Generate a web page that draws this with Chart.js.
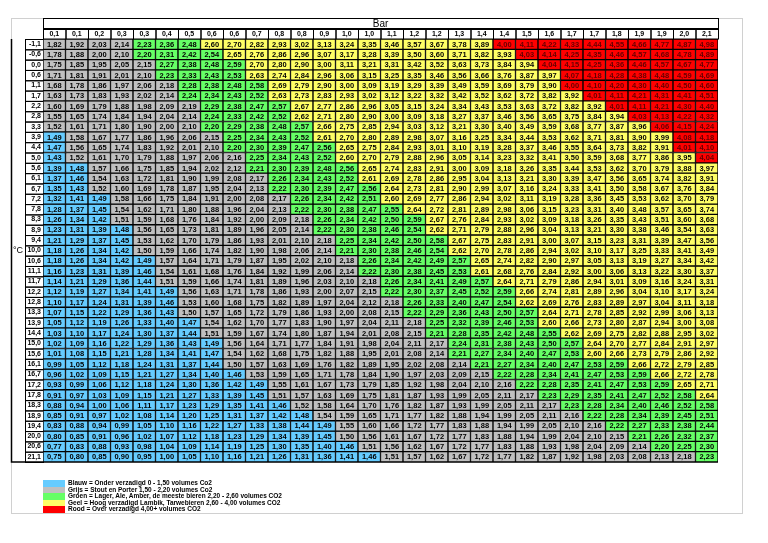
<!DOCTYPE html>
<html>
<head>
<meta charset="utf-8">
<script src="https://cdn.jsdelivr.net/npm/chart.js@4/dist/chart.umd.min.js"></script>
<style>
  body { margin: 0; background: #fff; }
  #wrap { position: relative; width: 768px; height: 543px; }
  #legend { position: absolute; left: 43px; top: 480px; font: bold 6.5px "Liberation Sans", Arial, sans-serif; }
  #legend div { height: 6.5px; line-height: 6.5px; white-space: nowrap; }
  #legend span { display: inline-block; width: 22px; height: 6.5px; vertical-align: top; margin-right: 3px; }
</style>
</head>
<body>
<div id="wrap">
  <canvas id="chart" width="768" height="543"></canvas>
  <div id="legend"></div>
</div>
<script>
// Koolzuur tabel: volumes CO2 per druk (bar) en temperatuur (°C)
const barLabels = ['0,1','0,1','0,2','0,3','0,3','0,4','0,5','0,6','0,6','0,7','0,8','0,8','0,9','1,0','1,0',
  '1,1','1,2','1,2','1,3','1,4','1,4','1,5','1,6','1,7','1,7','1,8','1,9','1,9','2,0','2,1'];
const tempLabels = ['-1,1','-0,6','0,0','0,6','1,1','1,7','2,2','2,8','3,3','3,9','4,4','5,0','5,6','6,1','6,7',
  '7,2','7,8','8,3','8,9','9,4','10,0','10,6','11,1','11,7','12,2','12,8','13,3','13,9','14,4','15,0','15,6',
  '16,1','16,7','17,2','17,8','18,3','18,9','19,4','20,0','20,6','21,1'];
const co2Values = [
  [1.82,1.92,2.03,2.14,2.23,2.36,2.48,2.60,2.70,2.82,2.93,3.02,3.13,3.24,3.35,3.46,3.57,3.67,3.78,3.89,4.00,4.11,4.22,4.33,4.44,4.55,4.66,4.77,4.87,4.98],
  [1.78,1.88,2.00,2.10,2.20,2.31,2.42,2.54,2.65,2.76,2.86,2.96,3.07,3.17,3.28,3.39,3.50,3.60,3.71,3.82,3.93,4.03,4.14,4.25,4.35,4.46,4.57,4.68,4.78,4.89],
  [1.75,1.85,1.95,2.05,2.15,2.27,2.38,2.48,2.59,2.70,2.80,2.90,3.00,3.11,3.21,3.31,3.42,3.52,3.63,3.73,3.84,3.94,4.04,4.15,4.25,4.36,4.46,4.57,4.67,4.77],
  [1.71,1.81,1.91,2.01,2.10,2.23,2.33,2.43,2.53,2.63,2.74,2.84,2.96,3.06,3.15,3.25,3.35,3.46,3.56,3.66,3.76,3.87,3.97,4.07,4.18,4.28,4.38,4.48,4.59,4.69],
  [1.68,1.78,1.86,1.97,2.06,2.18,2.28,2.38,2.48,2.58,2.69,2.79,2.90,3.00,3.09,3.19,3.29,3.39,3.49,3.59,3.69,3.79,3.90,4.00,4.10,4.20,4.30,4.40,4.50,4.60],
  [1.63,1.73,1.83,1.93,2.02,2.14,2.24,2.34,2.43,2.52,2.63,2.73,2.83,2.93,3.02,3.12,3.22,3.32,3.42,3.52,3.62,3.72,3.82,3.92,4.01,4.11,4.21,4.31,4.41,4.51],
  [1.60,1.69,1.79,1.88,1.98,2.09,2.19,2.29,2.38,2.47,2.57,2.67,2.77,2.86,2.96,3.05,3.15,3.24,3.34,3.43,3.53,3.63,3.72,3.82,3.92,4.01,4.11,4.21,4.30,4.40],
  [1.55,1.65,1.74,1.84,1.94,2.04,2.14,2.24,2.33,2.42,2.52,2.62,2.71,2.80,2.90,3.00,3.09,3.18,3.27,3.37,3.46,3.56,3.65,3.75,3.84,3.94,4.03,4.13,4.22,4.32],
  [1.52,1.61,1.71,1.80,1.90,2.00,2.10,2.20,2.29,2.38,2.48,2.57,2.66,2.75,2.85,2.94,3.03,3.12,3.21,3.30,3.40,3.49,3.59,3.68,3.77,3.87,3.96,4.06,4.15,4.24],
  [1.49,1.58,1.67,1.77,1.86,1.96,2.06,2.15,2.25,2.34,2.43,2.52,2.61,2.70,2.80,2.89,2.98,3.07,3.16,3.25,3.34,3.44,3.53,3.62,3.71,3.81,3.90,3.99,4.08,4.18],
  [1.47,1.56,1.65,1.74,1.83,1.92,2.01,2.10,2.20,2.30,2.39,2.47,2.56,2.65,2.75,2.84,2.93,3.01,3.10,3.19,3.28,3.37,3.46,3.55,3.64,3.73,3.82,3.91,4.01,4.10],
  [1.43,1.52,1.61,1.70,1.79,1.88,1.97,2.06,2.16,2.25,2.34,2.43,2.52,2.60,2.70,2.79,2.88,2.96,3.05,3.14,3.23,3.32,3.41,3.50,3.59,3.68,3.77,3.86,3.95,4.04],
  [1.39,1.48,1.57,1.66,1.75,1.85,1.94,2.02,2.12,2.21,2.30,2.39,2.48,2.56,2.65,2.74,2.83,2.91,3.00,3.09,3.18,3.26,3.35,3.44,3.53,3.62,3.70,3.79,3.88,3.97],
  [1.37,1.46,1.54,1.63,1.72,1.81,1.90,1.99,2.08,2.17,2.26,2.34,2.43,2.52,2.61,2.69,2.78,2.86,2.95,3.04,3.13,3.21,3.30,3.39,3.47,3.56,3.65,3.74,3.82,3.91],
  [1.35,1.43,1.52,1.60,1.69,1.78,1.87,1.95,2.04,2.13,2.22,2.30,2.39,2.47,2.56,2.64,2.73,2.81,2.90,2.99,3.07,3.16,3.24,3.33,3.41,3.50,3.58,3.67,3.76,3.84],
  [1.32,1.41,1.49,1.58,1.66,1.75,1.84,1.91,2.00,2.08,2.17,2.26,2.34,2.42,2.51,2.60,2.69,2.77,2.86,2.94,3.02,3.11,3.19,3.28,3.36,3.45,3.53,3.62,3.70,3.79],
  [1.28,1.37,1.45,1.54,1.62,1.71,1.80,1.88,1.96,2.04,2.13,2.22,2.30,2.38,2.47,2.55,2.64,2.72,2.81,2.89,2.98,3.06,3.15,3.23,3.31,3.40,3.48,3.57,3.65,3.74],
  [1.26,1.34,1.42,1.51,1.59,1.68,1.76,1.84,1.92,2.00,2.09,2.18,2.26,2.34,2.42,2.50,2.59,2.67,2.76,2.84,2.93,3.02,3.09,3.18,3.26,3.35,3.43,3.51,3.60,3.68],
  [1.23,1.31,1.39,1.48,1.56,1.65,1.73,1.81,1.89,1.96,2.05,2.14,2.22,2.30,2.38,2.46,2.54,2.62,2.71,2.79,2.88,2.96,3.04,3.13,3.21,3.30,3.38,3.46,3.54,3.63],
  [1.21,1.29,1.37,1.45,1.53,1.62,1.70,1.79,1.86,1.93,2.01,2.10,2.18,2.25,2.34,2.42,2.50,2.58,2.67,2.75,2.83,2.91,3.00,3.07,3.15,3.23,3.31,3.39,3.47,3.56],
  [1.18,1.26,1.34,1.42,1.50,1.59,1.66,1.74,1.82,1.90,1.98,2.06,2.14,2.21,2.30,2.38,2.46,2.54,2.62,2.70,2.78,2.86,2.94,3.02,3.10,3.17,3.25,3.33,3.41,3.49],
  [1.18,1.26,1.34,1.42,1.49,1.57,1.64,1.71,1.79,1.87,1.95,2.02,2.10,2.18,2.26,2.34,2.42,2.49,2.57,2.65,2.74,2.82,2.90,2.97,3.05,3.13,3.19,3.27,3.34,3.42],
  [1.16,1.23,1.31,1.39,1.46,1.54,1.61,1.68,1.76,1.84,1.92,1.99,2.06,2.14,2.22,2.30,2.38,2.45,2.53,2.61,2.68,2.76,2.84,2.92,3.00,3.06,3.13,3.22,3.30,3.37],
  [1.14,1.21,1.29,1.36,1.44,1.51,1.59,1.66,1.74,1.81,1.89,1.96,2.03,2.10,2.18,2.26,2.34,2.41,2.49,2.57,2.64,2.71,2.79,2.86,2.94,3.01,3.09,3.16,3.24,3.31],
  [1.12,1.19,1.27,1.34,1.41,1.49,1.56,1.63,1.71,1.78,1.86,1.93,2.00,2.07,2.15,2.22,2.30,2.37,2.45,2.52,2.59,2.66,2.74,2.81,2.89,2.96,3.04,3.10,3.17,3.24],
  [1.10,1.17,1.24,1.31,1.39,1.46,1.53,1.60,1.68,1.75,1.82,1.89,1.97,2.04,2.12,2.18,2.26,2.33,2.40,2.47,2.54,2.62,2.69,2.76,2.83,2.89,2.97,3.04,3.11,3.18],
  [1.07,1.15,1.22,1.29,1.36,1.43,1.50,1.57,1.65,1.72,1.79,1.86,1.93,2.00,2.08,2.15,2.22,2.29,2.36,2.43,2.50,2.57,2.64,2.71,2.78,2.85,2.92,2.99,3.06,3.13],
  [1.05,1.12,1.19,1.26,1.33,1.40,1.47,1.54,1.62,1.70,1.77,1.83,1.90,1.97,2.04,2.11,2.18,2.25,2.32,2.39,2.46,2.53,2.60,2.66,2.73,2.80,2.87,2.94,3.00,3.08],
  [1.03,1.10,1.17,1.24,1.30,1.37,1.44,1.51,1.59,1.67,1.74,1.80,1.87,1.94,2.01,2.08,2.15,2.21,2.28,2.35,2.42,2.48,2.55,2.62,2.69,2.75,2.82,2.88,2.95,3.02],
  [1.02,1.09,1.16,1.22,1.29,1.36,1.43,1.49,1.56,1.64,1.71,1.77,1.84,1.91,1.98,2.04,2.11,2.17,2.24,2.31,2.38,2.43,2.50,2.57,2.64,2.70,2.77,2.84,2.91,2.97],
  [1.01,1.08,1.15,1.21,1.28,1.34,1.41,1.47,1.54,1.62,1.68,1.75,1.82,1.88,1.95,2.01,2.08,2.14,2.21,2.27,2.34,2.40,2.47,2.53,2.60,2.66,2.73,2.79,2.86,2.92],
  [0.99,1.05,1.12,1.18,1.24,1.31,1.37,1.44,1.50,1.57,1.63,1.69,1.76,1.82,1.89,1.95,2.02,2.08,2.14,2.21,2.27,2.34,2.40,2.47,2.53,2.59,2.66,2.72,2.79,2.85],
  [0.96,1.02,1.09,1.15,1.21,1.27,1.34,1.40,1.46,1.53,1.59,1.65,1.71,1.78,1.84,1.90,1.97,2.03,2.09,2.15,2.22,2.28,2.34,2.41,2.47,2.53,2.59,2.66,2.72,2.78],
  [0.93,0.99,1.06,1.12,1.18,1.24,1.30,1.36,1.42,1.49,1.55,1.61,1.67,1.73,1.79,1.85,1.92,1.98,2.04,2.10,2.16,2.22,2.28,2.35,2.41,2.47,2.53,2.59,2.65,2.71],
  [0.91,0.97,1.03,1.09,1.15,1.21,1.27,1.33,1.39,1.45,1.51,1.57,1.63,1.69,1.75,1.81,1.87,1.93,1.99,2.05,2.11,2.17,2.23,2.29,2.35,2.41,2.47,2.52,2.58,2.64],
  [0.88,0.94,1.00,1.06,1.11,1.17,1.23,1.29,1.35,1.41,1.46,1.52,1.58,1.64,1.70,1.76,1.82,1.87,1.93,1.99,2.05,2.11,2.17,2.23,2.28,2.34,2.40,2.46,2.52,2.58],
  [0.85,0.91,0.97,1.02,1.08,1.14,1.20,1.25,1.31,1.37,1.42,1.48,1.54,1.59,1.65,1.71,1.77,1.82,1.88,1.94,1.99,2.05,2.11,2.16,2.22,2.28,2.34,2.39,2.45,2.51],
  [0.83,0.88,0.94,0.99,1.05,1.10,1.16,1.22,1.27,1.33,1.38,1.44,1.49,1.55,1.60,1.66,1.72,1.77,1.83,1.88,1.94,1.99,2.05,2.10,2.16,2.22,2.27,2.33,2.38,2.44],
  [0.80,0.85,0.91,0.96,1.02,1.07,1.12,1.18,1.23,1.29,1.34,1.39,1.45,1.50,1.56,1.61,1.67,1.72,1.77,1.83,1.88,1.94,1.99,2.04,2.10,2.15,2.21,2.26,2.32,2.37],
  [0.77,0.83,0.88,0.93,0.98,1.04,1.09,1.14,1.19,1.25,1.30,1.35,1.40,1.46,1.51,1.56,1.62,1.67,1.72,1.77,1.83,1.88,1.93,1.98,2.04,2.09,2.14,2.20,2.25,2.30],
  [0.75,0.80,0.85,0.90,0.95,1.00,1.05,1.10,1.16,1.21,1.26,1.31,1.36,1.41,1.46,1.51,1.57,1.62,1.67,1.72,1.77,1.82,1.87,1.92,1.98,2.03,2.08,2.13,2.18,2.23]
];
// Kleurgrenzen (ondergrens van elke klasse) en legenda
const classLimits = [0, 1.50, 2.20, 2.60, 4.00];
const classColors = ['#66CCFF', '#C0C0C0', '#66FF66', '#FFFF66', '#FF0000'];
const classTexts = [
  'Blauw = Onder verzadigd 0 - 1,50 volumes Co2',
  'Grijs = Stout en Porter 1,50 - 2,20 volumes Co2',
  'Groen = Lager, Ale, Amber, de meeste bieren 2,20 - 2,60 volumes CO2',
  'Geel = Hoog verzadigd Lambik, Tarwebieren 2,60 - 4,00 volumes CO2',
  'Rood = Over verzadigd 4,00+ volumes CO2'
];

function colorFor(v) {
  let c = classColors[0];
  classLimits.forEach((lim, i) => { if (v >= lim) c = classColors[i]; });
  return c;
}

const datasets = co2Values.map((row, r) => ({
  label: tempLabels[r],
  data: row.map(() => [r, r + 1]),
  values: row,
  backgroundColor: row.map(colorFor),
  borderColor: '#000',
  borderWidth: 1,
  borderSkipped: false,
  grouped: false,
  barPercentage: 1,
  categoryPercentage: 1
}));

const FONT = '"Liberation Sans", Arial, sans-serif';

// Header cells, row-label cells, frame lines and cell texts
const tablePlugin = {
  id: 'table',
  beforeDraw(chart) {
    const { ctx, chartArea: a } = chart;
    ctx.save();
    ctx.strokeStyle = '#d0d0d0';
    ctx.lineWidth = 1;
    ctx.strokeRect(11.5, 18.5, 731, 495);
    ctx.strokeStyle = '#000';
    ctx.strokeRect(a.left + 0.5, 18.5, a.right - a.left, a.top - 29);
    const w = (a.right - a.left) / barLabels.length;
    barLabels.forEach((_, i) => ctx.strokeRect(a.left + i * w + 0.5, 29.5, w, a.top - 29.5));
    const h = (a.bottom - a.top) / tempLabels.length;
    tempLabels.forEach((_, i) => ctx.strokeRect(25.5, a.top + i * h + 0.5, a.left - 25, h));
    ctx.lineWidth = 1.5;
    ctx.beginPath();
    ctx.moveTo(11.5, a.top); ctx.lineTo(11.5, a.bottom);
    ctx.lineTo(a.right, a.bottom);
    ctx.stroke();
    ctx.fillStyle = '#000';
    ctx.textAlign = 'center';
    ctx.textBaseline = 'middle';
    ctx.font = '10px ' + FONT;
    ctx.fillText('Bar', (a.left + a.right) / 2, 24);
    ctx.font = '9px ' + FONT;
    ctx.fillText('°C', 18, (a.top + a.bottom) / 2);
    ctx.restore();
  },
  afterDatasetsDraw(chart) {
    const { ctx } = chart;
    ctx.save();
    ctx.font = 'bold 7.5px ' + FONT;
    ctx.textAlign = 'center';
    ctx.textBaseline = 'middle';
    chart.data.datasets.forEach((ds, di) => {
      chart.getDatasetMeta(di).data.forEach((bar, i) => {
        const p = bar.getProps(['x', 'y', 'base'], true);
        ctx.fillStyle = ds.values[i] >= 4 ? '#600' : '#000';
        ctx.fillText(ds.values[i].toFixed(2).replace('.', ','), p.x, (p.y + p.base) / 2 + 0.5);
      });
    });
    ctx.restore();
  }
};

new Chart(document.getElementById('chart'), {
  type: 'bar',
  data: { labels: barLabels, datasets },
  options: {
    responsive: false,
    animation: false,
    layout: { padding: { left: 25, top: 29, right: 50, bottom: 81 } },
    plugins: { legend: { display: false }, tooltip: { enabled: false } },
    scales: {
      x: {
        position: 'top',
        grid: { display: false, drawTicks: false },
        border: { display: false },
        ticks: { autoSkip: false, maxRotation: 0, padding: 1, color: '#000', font: { size: 7, weight: 'bold', family: FONT } },
        afterFit(s) { s.height = 10; }
      },
      y: {
        type: 'linear',
        reverse: true,
        min: 0,
        max: tempLabels.length,
        grid: { display: false, drawTicks: false },
        border: { display: false },
        afterBuildTicks(s) { s.ticks = tempLabels.map((_, i) => ({ value: i + 0.5 })); },
        ticks: {
          autoSkip: false,
          padding: 2,
          color: '#000',
          font: { size: 7, weight: 'bold', family: FONT },
          callback: (v, i) => tempLabels[i]
        },
        afterFit(s) { s.width = 18; }
      }
    }
  },
  plugins: [tablePlugin]
});

document.getElementById('legend').innerHTML = classTexts
  .map((t, i) => `<div><span style="background:${classColors[i]}"></span>${t}</div>`).join('');
</script>
</body>
</html>
